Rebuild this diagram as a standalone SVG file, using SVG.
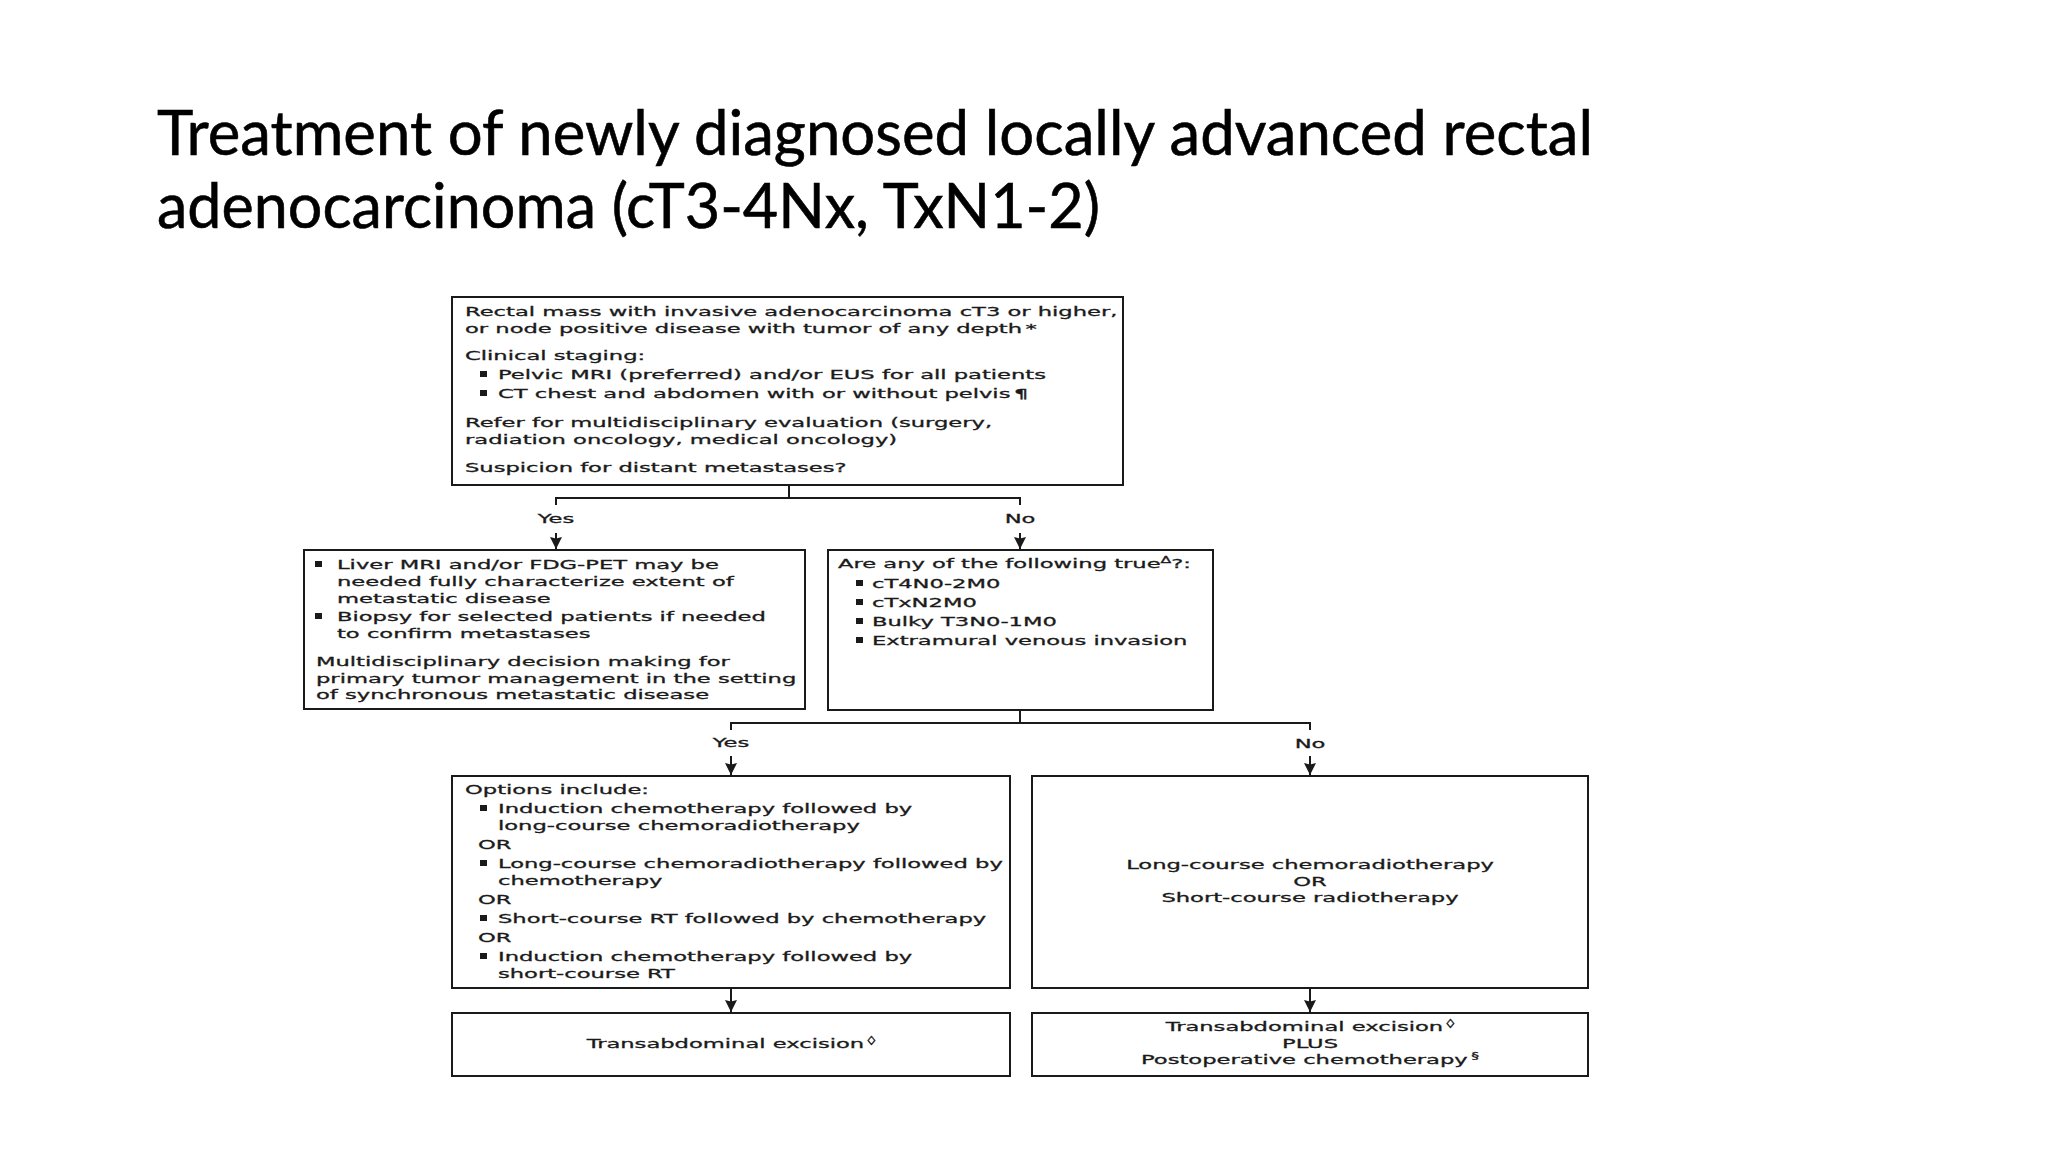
<svg xmlns="http://www.w3.org/2000/svg" width="2048" height="1152" viewBox="0 0 2048 1152">
<style>
.title{font-family:Lato,"Liberation Sans",sans-serif;font-size:62px;fill:#000;stroke:#000;stroke-width:0.6}
.t{font-family:"DejaVu Sans",Verdana,sans-serif;font-size:13px;fill:#1a1a1a;stroke:#1a1a1a;stroke-width:0.3}
.m{text-anchor:middle}
.sup{font-size:9px}
.box{fill:#fff;stroke:#1a1a1a;stroke-width:2}
.con{fill:none;stroke:#1a1a1a;stroke-width:2}
.b{fill:#1a1a1a}
</style>
<defs>
<marker id="ah" markerUnits="userSpaceOnUse" markerWidth="14" markerHeight="14" viewBox="0 0 14 14" refX="12" refY="7" orient="auto">
<path d="M0,1 L12,7 L0,13 L1.5,7 z" fill="#1a1a1a"/>
</marker>
</defs>
<rect width="2048" height="1152" fill="#fff"/>
<g id="title">
<text class="title" x="157" y="155" textLength="1436" lengthAdjust="spacingAndGlyphs">Treatment of newly diagnosed locally advanced rectal</text>
<text class="title" x="157" y="228" textLength="943" lengthAdjust="spacingAndGlyphs">adenocarcinoma (cT3-4Nx, TxN1-2)</text>
</g>
<g id="connectors">
<path class="con" d="M789,485 V498 M556,505 V498 H1020 V505"/>
<path class="con" d="M556,533 V549" marker-end="url(#ah)"/>
<path class="con" d="M1020,533 V549" marker-end="url(#ah)"/>
<path class="con" d="M1020,710 V723 M731,730 V723 H1310 V730"/>
<path class="con" d="M731,756 V775" marker-end="url(#ah)"/>
<path class="con" d="M1310,756 V775" marker-end="url(#ah)"/>
<path class="con" d="M731,989 V1012" marker-end="url(#ah)"/>
<path class="con" d="M1310,989 V1012" marker-end="url(#ah)"/>
<text class="t m" transform="translate(556,523) scale(1.74,1)">Yes</text>
<text class="t m" transform="translate(1020,523) scale(1.74,1)">No</text>
<text class="t m" transform="translate(731,747) scale(1.74,1)">Yes</text>
<text class="t m" transform="translate(1310,748) scale(1.74,1)">No</text>
</g>
<g id="node-start">
<rect class="box" x="452" y="297" width="671" height="188"/>
<text class="t" transform="translate(465,316) scale(1.74,1)">Rectal mass with invasive adenocarcinoma cT3 or higher,</text>
<text class="t" transform="translate(465,333) scale(1.74,1)">or node positive disease with tumor of any depth<tspan dx="2">*</tspan></text>
<text class="t" transform="translate(465,360) scale(1.74,1)">Clinical staging:</text>
<rect class="b" x="480" y="371" width="7" height="6"/>
<text class="t" transform="translate(498,379) scale(1.74,1)">Pelvic MRI (preferred) and/or EUS for all patients</text>
<rect class="b" x="480" y="390" width="7" height="6"/>
<text class="t" transform="translate(498,398) scale(1.74,1)">CT chest and abdomen with or without pelvis<tspan dx="2">¶</tspan></text>
<text class="t" transform="translate(465,427) scale(1.74,1)">Refer for multidisciplinary evaluation (surgery,</text>
<text class="t" transform="translate(465,444) scale(1.74,1)">radiation oncology, medical oncology)</text>
<text class="t" transform="translate(465,472) scale(1.74,1)">Suspicion for distant metastases?</text>
</g>
<g id="node-metastatic">
<rect class="box" x="304" y="550" width="501" height="159"/>
<rect class="b" x="315" y="561" width="7" height="6"/>
<text class="t" transform="translate(337,569) scale(1.74,1)">Liver MRI and/or FDG-PET may be</text>
<text class="t" transform="translate(337,586) scale(1.74,1)">needed fully characterize extent of</text>
<text class="t" transform="translate(337,603) scale(1.74,1)">metastatic disease</text>
<rect class="b" x="315" y="613" width="7" height="6"/>
<text class="t" transform="translate(337,621) scale(1.74,1)">Biopsy for selected patients if needed</text>
<text class="t" transform="translate(337,638) scale(1.74,1)">to confirm metastases</text>
<text class="t" transform="translate(316,666) scale(1.74,1)">Multidisciplinary decision making for</text>
<text class="t" transform="translate(316,683) scale(1.74,1)">primary tumor management in the setting</text>
<text class="t" transform="translate(316,699) scale(1.74,1)">of synchronous metastatic disease</text>
</g>
<g id="node-question">
<rect class="box" x="828" y="550" width="385" height="160"/>
<text class="t" transform="translate(838,568) scale(1.74,1)">Are any of the following true<tspan class="sup" dy="-5">Δ</tspan><tspan dy="5">?:</tspan></text>
<rect class="b" x="856" y="580" width="7" height="6"/>
<text class="t" transform="translate(872,588) scale(1.74,1)">cT4N0-2M0</text>
<rect class="b" x="856" y="599" width="7" height="6"/>
<text class="t" transform="translate(872,607) scale(1.74,1)">cTxN2M0</text>
<rect class="b" x="856" y="618" width="7" height="6"/>
<text class="t" transform="translate(872,626) scale(1.74,1)">Bulky T3N0-1M0</text>
<rect class="b" x="856" y="637" width="7" height="6"/>
<text class="t" transform="translate(872,645) scale(1.74,1)">Extramural venous invasion</text>
</g>
<g id="node-options">
<rect class="box" x="452" y="776" width="558" height="212"/>
<text class="t" transform="translate(465,794) scale(1.74,1)">Options include:</text>
<rect class="b" x="480" y="805" width="7" height="6"/>
<text class="t" transform="translate(498,813) scale(1.74,1)">Induction chemotherapy followed by</text>
<text class="t" transform="translate(498,830) scale(1.74,1)">long-course chemoradiotherapy</text>
<text class="t" transform="translate(478,849) scale(1.74,1)">OR</text>
<rect class="b" x="480" y="860" width="7" height="6"/>
<text class="t" transform="translate(498,868) scale(1.74,1)">Long-course chemoradiotherapy followed by</text>
<text class="t" transform="translate(498,885) scale(1.74,1)">chemotherapy</text>
<text class="t" transform="translate(478,904) scale(1.74,1)">OR</text>
<rect class="b" x="480" y="915" width="7" height="6"/>
<text class="t" transform="translate(498,923) scale(1.74,1)">Short-course RT followed by chemotherapy</text>
<text class="t" transform="translate(478,942) scale(1.74,1)">OR</text>
<rect class="b" x="480" y="953" width="7" height="6"/>
<text class="t" transform="translate(498,961) scale(1.74,1)">Induction chemotherapy followed by</text>
<text class="t" transform="translate(498,978) scale(1.74,1)">short-course RT</text>
</g>
<g id="node-neoadjuvant">
<rect class="box" x="1032" y="776" width="556" height="212"/>
<text class="t m" transform="translate(1310,869) scale(1.74,1)">Long-course chemoradiotherapy</text>
<text class="t m" transform="translate(1310,886) scale(1.74,1)">OR</text>
<text class="t m" transform="translate(1310,902) scale(1.74,1)">Short-course radiotherapy</text>
</g>
<g id="node-excision">
<rect class="box" x="452" y="1013" width="558" height="63"/>
<text class="t m" transform="translate(731,1048) scale(1.74,1)">Transabdominal excision<tspan class="sup" dx="2" dy="-5">◊</tspan></text>
</g>
<g id="node-excision-chemo">
<rect class="box" x="1032" y="1013" width="556" height="63"/>
<text class="t m" transform="translate(1310,1031) scale(1.74,1)">Transabdominal excision<tspan class="sup" dx="2" dy="-5">◊</tspan></text>
<text class="t m" transform="translate(1310,1048) scale(1.74,1)">PLUS</text>
<text class="t m" transform="translate(1310,1064) scale(1.74,1)">Postoperative chemotherapy<tspan class="sup" dx="2" dy="-5">§</tspan></text>
</g>
</svg>
